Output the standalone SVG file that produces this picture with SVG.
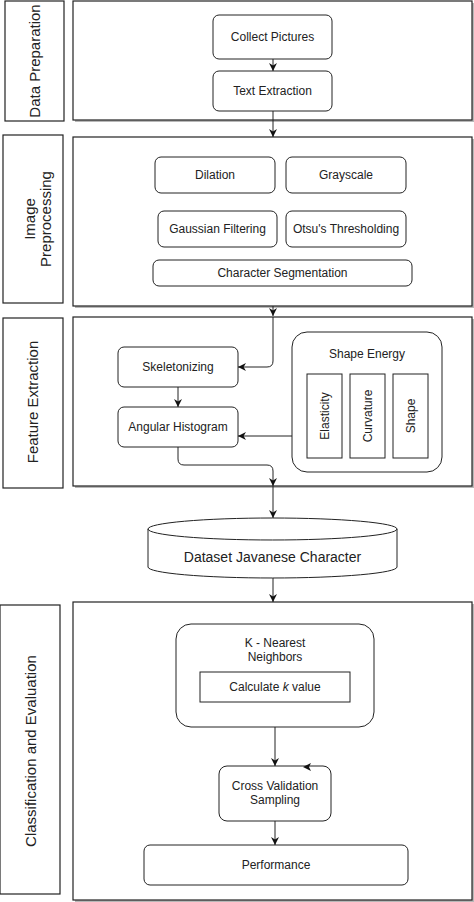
<svg xmlns="http://www.w3.org/2000/svg" width="474" height="902" viewBox="0 0 474 902">
<defs>
<style>
.lane{fill:#fff;stroke:#222;stroke-width:1.2}
.pool{fill:#fff;stroke:#222;stroke-width:1.2}
.shadow{fill:#888;opacity:0.6}
.node{fill:#fff;stroke:#222;stroke-width:1}
.t{font-family:"Liberation Sans",Arial,sans-serif;font-size:12px;fill:#222;text-anchor:middle;dominant-baseline:central}
.lt{font-family:"Liberation Sans",Arial,sans-serif;font-size:15px;fill:#222;text-anchor:middle;dominant-baseline:central}
.edge{fill:none;stroke:#222;stroke-width:1}
</style>
<marker id="arr" viewBox="0 0 10 10" refX="10" refY="5" markerWidth="8" markerHeight="8" markerUnits="userSpaceOnUse" orient="auto">
<path d="M0,0 L10,5 L0,10 L3,5 Z" fill="#111"/>
</marker>
</defs>
<rect width="474" height="902" fill="#fff"/>

<g id="data-preparation">
<rect class="lane" x="5" y="1" width="59" height="120"/>
<text class="lt" transform="translate(34,61) rotate(-90)">Data Preparation</text>
<rect class="shadow" x="75" y="3" width="399" height="119"/>
<rect class="pool" x="73" y="1" width="399" height="119"/>
</g>
<g id="collect-pictures">
<rect class="node" x="213" y="15" width="119" height="44" rx="6"/>
<text class="t" x="272.5" y="37">Collect Pictures</text>
</g>
<g id="text-extraction">
<rect class="node" x="213" y="71" width="119" height="40" rx="6"/>
<text class="t" x="272.5" y="91">Text Extraction</text>
</g>

<g id="image-preprocessing">
<rect class="lane" x="3" y="135" width="60" height="168"/>
<text class="lt" transform="translate(29,219) rotate(-90)">Image</text>
<text class="lt" transform="translate(45,219) rotate(-90)">Preprocessing</text>
<rect class="shadow" x="75" y="139" width="399" height="169"/>
<rect class="pool" x="73" y="137" width="399" height="169"/>
</g>
<g id="dilation">
<rect class="node" x="155" y="157" width="120" height="36" rx="6"/>
<text class="t" x="215" y="175">Dilation</text>
</g>
<g id="grayscale">
<rect class="node" x="286" y="157" width="120" height="36" rx="6"/>
<text class="t" x="346" y="175">Grayscale</text>
</g>
<g id="gaussian-filtering">
<rect class="node" x="158" y="211" width="119" height="36" rx="6"/>
<text class="t" x="217.5" y="229">Gaussian Filtering</text>
</g>
<g id="otsu-thresholding">
<rect class="node" x="286" y="211" width="120" height="36" rx="6"/>
<text class="t" x="346" y="229">Otsu's Thresholding</text>
</g>
<g id="character-segmentation">
<rect class="node" x="153" y="260" width="259" height="26" rx="6"/>
<text class="t" x="282.5" y="273">Character Segmentation</text>
</g>

<g id="feature-extraction">
<rect class="lane" x="3" y="318" width="60" height="170"/>
<text class="lt" transform="translate(32,402) rotate(-90)">Feature Extraction</text>
<rect class="shadow" x="75" y="319" width="399" height="169"/>
<rect class="pool" x="73" y="317" width="399" height="169"/>
</g>
<g id="skeletonizing">
<rect class="node" x="118" y="347" width="120" height="40" rx="6"/>
<text class="t" x="178" y="367">Skeletonizing</text>
</g>
<g id="angular-histogram">
<rect class="node" x="118" y="407" width="120" height="40" rx="6"/>
<text class="t" x="178" y="427">Angular Histogram</text>
</g>
<g id="shape-energy">
<rect class="node" x="292" y="332" width="150" height="140" rx="15"/>
<text class="t" x="367" y="354">Shape Energy</text>
</g>
<g id="elasticity">
<rect class="node" x="307" y="374" width="35" height="84"/>
<text class="t" transform="translate(324.5,416) rotate(-90)">Elasticity</text>
</g>
<g id="curvature">
<rect class="node" x="350" y="374" width="35" height="84"/>
<text class="t" transform="translate(367.5,416) rotate(-90)">Curvature</text>
</g>
<g id="shape">
<rect class="node" x="393" y="374" width="35" height="84"/>
<text class="t" transform="translate(410.5,416) rotate(-90)">Shape</text>
</g>

<g id="dataset-javanese-character">
<path class="node" d="M148,529 A124.5,11 0 0 1 397,529 L397,567 A124.5,11 0 0 1 148,567 Z"/>
<path class="edge" d="M148,529 A124.5,11 0 0 0 397,529"/>
<text class="lt" style="font-size:14px" x="272.5" y="557">Dataset Javanese Character</text>
</g>

<g id="classification-evaluation">
<rect class="lane" x="0" y="605" width="60" height="289"/>
<text class="lt" transform="translate(30,751) rotate(-90)">Classification and Evaluation</text>
<rect class="shadow" x="75" y="604" width="399" height="298"/>
<rect class="pool" x="73" y="602" width="399" height="298"/>
</g>
<g id="k-nearest-neighbors">
<rect class="node" x="176" y="624" width="198" height="103" rx="15"/>
<text class="t" x="275" y="643">K - Nearest</text>
<text class="t" x="275" y="657">Neighbors</text>
</g>
<g id="calculate-k-value">
<rect class="node" x="200" y="672" width="150" height="30"/>
<text class="t" x="275" y="687">Calculate <tspan font-style="italic">k</tspan> value</text>
</g>
<g id="cross-validation-sampling">
<rect class="node" x="219" y="766" width="112" height="55" rx="8"/>
<text class="t" x="275" y="786">Cross Validation</text>
<text class="t" x="275" y="800">Sampling</text>
</g>
<g id="performance">
<rect class="node" x="144" y="845" width="264" height="40" rx="6"/>
<text class="t" x="276" y="865">Performance</text>
</g>

<g id="connectors">
<path class="edge" d="M273,59 L273,71" marker-end="url(#arr)"/>
<path class="edge" d="M273,111 L273,137" marker-end="url(#arr)"/>
<path class="edge" d="M273,306 L273,316" marker-end="url(#arr)"/>
<path class="edge" d="M273,317 L273,361 Q273,367 267,367 L238,367" marker-end="url(#arr)"/>
<path class="edge" d="M178,387 L178,407" marker-end="url(#arr)"/>
<path class="edge" d="M292,436 L238,436" marker-end="url(#arr)"/>
<path class="edge" d="M178,447 L178,459 Q178,465 184,465 L267,465 Q273,465 273,471 L273,486" marker-end="url(#arr)"/>
<path class="edge" d="M273,486 L273,518" marker-end="url(#arr)"/>
<path class="edge" d="M273,578 L273,602" marker-end="url(#arr)"/>
<path class="edge" d="M275,727 L275,766" marker-end="url(#arr)"/>
<path class="edge" d="M275,821 L275,845" marker-end="url(#arr)"/>
<path d="M303,767 L311,763 L309,767 L311,771 Z" fill="#111"/>
</g>
</svg>
